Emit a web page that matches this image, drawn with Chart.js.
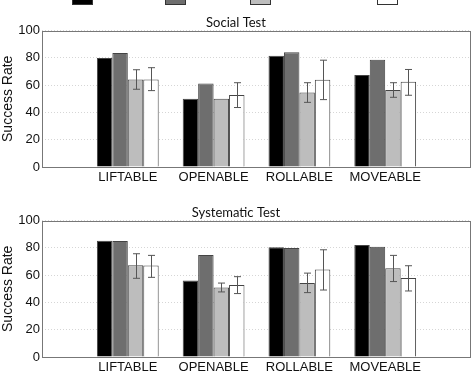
<!DOCTYPE html>
<html><head><meta charset="utf-8">
<script src="https://cdn.jsdelivr.net/npm/chart.js@4/dist/chart.umd.min.js"></script>
<style>
html,body{margin:0;padding:0;background:#fff;overflow:hidden;width:474px;height:373px;position:relative}
canvas{position:absolute;left:0}
.lg{position:absolute;top:-9px;height:13px;font:13px "Liberation Sans",Arial,sans-serif;white-space:nowrap}
.lg span.b{display:inline-block;width:19px;height:12px;border:1px solid #333;vertical-align:top}
.lg span.t{position:relative;top:-10px;margin-left:6px}
</style></head><body>
<div class="lg" style="left:72px"><span class="b" style="background:#000"></span><span class="t">Condition 1</span></div>
<div class="lg" style="left:165px"><span class="b" style="background:#6e6e6e"></span><span class="t">Condition 2</span></div>
<div class="lg" style="left:250px"><span class="b" style="background:#bdbdbd"></span><span class="t">Condition 3</span></div>
<div class="lg" style="left:377px"><span class="b" style="background:#fff"></span><span class="t">Condition 4</span></div>
<canvas id="c1" width="474" height="185" style="top:0"></canvas>
<canvas id="c2" width="474" height="183" style="top:190px"></canvas>
<script>
const categories = ['LIFTABLE','OPENABLE','ROLLABLE','MOVEABLE'];
const seriesNames = ['Condition 1','Condition 2','Condition 3','Condition 4'];
const yTicks = [0,20,40,60,80,100];

const socialA = [80, 50, 81.5, 67.5];
const socialB = [83.5, 61.3, 84.2, 78.6];
const socialC = [64.2, 50, 54.7, 56.4];
const socialCLow = [57, 50, 47.4, 51.1];
const socialCHigh = [71.3, 50, 61.8, 61.8];
const socialD = [64.2, 52.8, 64, 62.5];
const socialDLow = [56, 43.6, 49.4, 52.6];
const socialDHigh = [72.8, 61.8, 78.3, 71.5];

const systA = [85.3, 56, 80.5, 82.2];
const systB = [85, 74.7, 80, 80.8];
const systC = [67.2, 50.9, 54.2, 65];
const systCLow = [57.7, 47.7, 47.2, 55.3];
const systCHigh = [75.7, 54.2, 61.5, 74.5];
const systD = [67, 52.8, 64.2, 57.9];
const systDLow = [58.4, 46.5, 49.1, 48.4];
const systDHigh = [74.5, 58.9, 78.6, 66.9];

const colors = ['#000000','#6e6e6e','#bdbdbd','#ffffff'];
const pad = a => [null, ...a, null];

const errPlugin = {
  id:'err',
  afterDatasetsDraw(chart){
    const ctx = chart.ctx, ys = chart.scales.y;
    chart.data.datasets.forEach((ds,di)=>{
      if(!ds.errLow) return;
      const meta = chart.getDatasetMeta(di);
      ctx.save(); ctx.strokeStyle='#555'; ctx.lineWidth=1;
      meta.data.forEach((el,i)=>{
        const lo = ds.errLow[i], hi = ds.errHigh[i];
        if(lo==null || hi==null || lo===hi) return;
        const x = Math.round(el.x)+0.5, y1 = ys.getPixelForValue(lo), y2 = ys.getPixelForValue(hi);
        ctx.beginPath();
        ctx.moveTo(x,y1); ctx.lineTo(x,y2);
        ctx.moveTo(x-3.5,y1); ctx.lineTo(x+3.5,y1);
        ctx.moveTo(x-3.5,y2); ctx.lineTo(x+3.5,y2);
        ctx.stroke();
      });
      ctx.restore();
    });
  }
};
const framePlugin = {
  id:'frame',
  afterDraw(chart){
    const a = chart.chartArea, ctx = chart.ctx;
    ctx.save(); ctx.strokeStyle='#777'; ctx.lineWidth=1;
    ctx.strokeRect(Math.round(a.left)+0.5, Math.round(a.top)+0.5, Math.round(a.right-a.left)-1, Math.round(a.bottom-a.top));
    ctx.restore();
  }
};

function make(id, title, A, B, C, CL, CH, D, DL, DH, xh){
  const mk = (k,data,lo,hi)=>({label:seriesNames[k], data:pad(data), backgroundColor:colors[k],
    borderColor:'#444', borderWidth:1, borderSkipped:'bottom',
    errLow: lo?pad(lo):null, errHigh: hi?pad(hi):null,
    barPercentage:1, categoryPercentage:0.72});
  new Chart(document.getElementById(id), {
    type:'bar',
    data:{labels:['',...categories,''], datasets:[mk(0,A),mk(1,B),mk(2,C,CL,CH),mk(3,D,DL,DH)]},
    options:{
      responsive:false, animation:false, maintainAspectRatio:false,
      layout:{padding:{left:0,right:2,top:0,bottom:0}},
      plugins:{legend:{display:false}, tooltip:{enabled:false},
        title:{display:true,text:title,color:'#111',font:{family:'Lato',size:13,weight:'normal'},padding:{top:15,bottom:0}}},
      scales:{
        x:{offset:false, grid:{display:false, drawTicks:false}, border:{display:false},
          ticks:{color:'#111',font:{family:'"Liberation Sans",Arial',size:13},padding:3,maxRotation:0,autoSkip:false},
          afterFit(s){s.height=xh;}},
        y:{min:0,max:100, afterBuildTicks(s){s.ticks=yTicks.map(v=>({value:v}));},
          grid:{color:'#d6d6d6', drawTicks:false},
          border:{display:false, dash:[1,2]},
          ticks:{color:'#111',font:{family:'"Liberation Sans",Arial',size:13},padding:2},
          title:{display:true,text:'Success Rate',color:'#111',font:{family:'"Liberation Sans",Arial',size:14},padding:{top:0,bottom:0}},
          afterFit(s){s.width=42;}}
      }
    },
    plugins:[errPlugin, framePlugin]
  });
}
make('c1','Social Test', socialA, socialB, socialC, socialCLow, socialCHigh, socialD, socialDLow, socialDHigh, 18);
make('c2','Systematic Test', systA, systB, systC, systCLow, systCHigh, systD, systDLow, systDHigh, 16);
</script>
</body></html>
